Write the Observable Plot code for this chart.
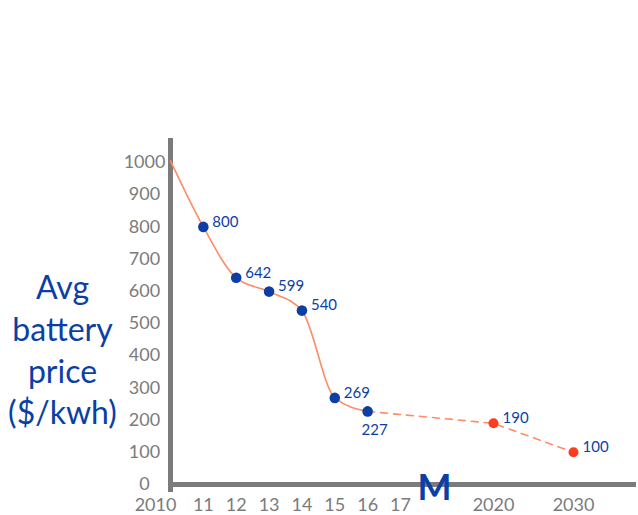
<!DOCTYPE html>
<html><head><meta charset="utf-8">
<script src="https://cdn.jsdelivr.net/npm/d3@7"></script>
<script src="https://cdn.jsdelivr.net/npm/@observablehq/plot@0.6"></script>
<style>body{margin:0;background:#fff}#chart svg{display:block}</style>
</head><body><div id="chart"></div>
<script>
// Historical (solid) series
const histYears = [2010, 2011, 2012, 2013, 2014, 2015, 2016];
const histPrices = [1005, 800, 642, 599, 540, 269, 227];
// Projection (dashed) series
const projYears = [2016, 2020, 2030];
const projPrices = [227, 190, 100];
// Labelled points
const obsYears = [2011, 2012, 2013, 2014, 2015, 2016];
const obsPrices = [800, 642, 599, 540, 269, 227];
const forecastYears = [2020, 2030];
const forecastPrices = [190, 100];
// Axes
const xTickValues = [2011, 2012, 2013, 2014, 2015, 2016, 2017, 2020, 2030];
const xTickLabels = ["11", "12", "13", "14", "15", "16", "17", "2020", "2030"];
const xFirstTick = [2010];
const xFirstLabel = "2010";
const yTickValues = [0, 100, 200, 300, 400, 500, 600, 700, 800, 900, 1000];
const axisBreakYear = [2018.1];
const yTitle = "Avg\nbattery\nprice\n($/kwh)";

const hist = histYears.map((x, i) => ({x, y: histPrices[i]}));
const proj = projYears.map((x, i) => ({x, y: projPrices[i]}));
const obs = obsYears.map((x, i) => ({x, y: obsPrices[i]}));
const fc = forecastYears.map((x, i) => ({x, y: forecastPrices[i]}));
const labelMap = new Map(xTickValues.map((v, i) => [v, xTickLabels[i]]));

const BLUE = "#0b3fa6", ORANGE = "#ff8c66", RED = "#ff3b22", GRAY = "#7b7b7b";
const FONT = "Lato, 'Open Sans', sans-serif";

const chart = Plot.plot({
  width: 638,
  height: 515,
  marginTop: 138,
  marginBottom: 23,
  marginLeft: 168,
  marginRight: 2,
  style: {fontFamily: FONT, background: "#fff"},
  x: {type: "linear", domain: [2010, 2017, 2020, 2030], range: [170, 400, 493, 573]},
  y: {domain: [0, 1000], range: [484, 162]},
  marks: [
    Plot.ruleY([0], {stroke: GRAY, strokeWidth: 5}),
    Plot.ruleX([2010], {stroke: GRAY, strokeWidth: 5}),
    Plot.axisY({ticks: yTickValues, tickFormat: d3.format("d"), tickSize: 0, tickPadding: 24, textAnchor: "middle", fontSize: 18, fill: GRAY, label: null}),
    Plot.axisX({ticks: xTickValues, tickFormat: d => labelMap.get(d), tickSize: 0, tickPadding: 6, fontSize: 18, fill: GRAY, label: null}),
    Plot.axisX({ticks: xFirstTick, tickFormat: () => xFirstLabel, tickSize: 0, tickPadding: 6, fontSize: 18, fill: GRAY, label: null, dx: -15}),
    Plot.text(axisBreakYear, {x: d => d, y: () => 0, text: () => "M", fill: BLUE, fontSize: 36, fontWeight: "bold", dy: 4}),
    Plot.line(hist, {x: "x", y: "y", stroke: ORANGE, strokeWidth: 1.6, curve: "monotone-x"}),
    Plot.line(proj, {x: "x", y: "y", stroke: ORANGE, strokeWidth: 1.6, strokeDasharray: "7,6"}),
    Plot.dot(obs, {x: "x", y: "y", r: 5.3, fill: BLUE}),
    Plot.dot(fc, {x: "x", y: "y", r: 5, fill: RED}),
    Plot.text(obs.filter(d => d.y !== 227), {x: "x", y: "y", text: d => String(d.y), textAnchor: "start", dx: 9, dy: -5, fill: BLUE, fontSize: 15}),
    Plot.text(obs.filter(d => d.y === 227), {x: "x", y: "y", text: d => String(d.y), dx: 7, dy: 19, fill: BLUE, fontSize: 15}),
    Plot.text(fc, {x: "x", y: "y", text: d => String(d.y), textAnchor: "start", dx: 9, dy: -5, fill: BLUE, fontSize: 15}),
    Plot.text([yTitle], {frameAnchor: "left", text: d => d, dx: -106, dy: 33, textAnchor: "middle", fill: BLUE, fontSize: 32, lineHeight: 1.3})
  ]
});
document.getElementById("chart").appendChild(chart);
</script>
</body></html>
